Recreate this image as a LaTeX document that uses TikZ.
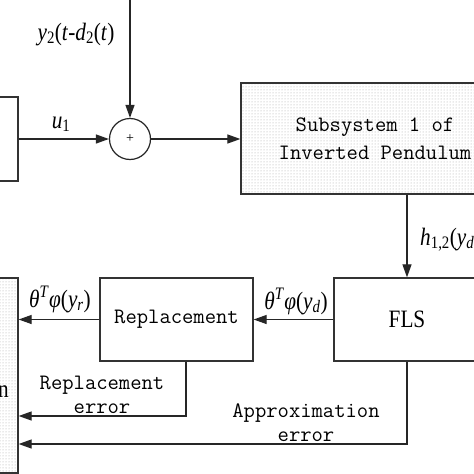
\documentclass[tikz,border=0pt]{standalone}
\usepackage{fontspec}
\setmainfont{Liberation Serif}
\usepackage{graphicx}
\usetikzlibrary{arrows.meta,patterns}
\newcommand{\nx}[1]{\scalebox{0.85}[1]{#1}}
\tikzset{
  box/.style={draw=black!80, line width=1.3pt, inner sep=0pt, fill=white},
  dotbox/.style={draw=black!80, line width=1.3pt, inner sep=0pt, pattern=dots, pattern color=black!35},
  conn/.style={draw=black!85, line width=1.2pt, -{Triangle[length=13pt,width=9pt]}},
  mono/.style={font=\ttfamily\fontsize{22}{24}\selectfont, align=center},
  lab/.style={font=\fontsize{25}{28}\selectfont, inner sep=0pt},
}
\begin{document}
\begin{tikzpicture}[x=1pt,y=-1pt]
\useasboundingbox (0,0) rectangle (474,474);
\clip (0,0) rectangle (474,474);
\fill[white] (0,0) rectangle (474,474);
% boxes
\node[box, minimum width=118pt, minimum height=84pt] (ctrl) at (-41,139) {};
\node[dotbox, minimum width=268pt, minimum height=111pt, mono] (sub) at (375,138.5)
  {Subsystem 1 of\\[4pt]Inverted Pendulum};
\node[box, minimum width=146pt, minimum height=83pt, lab] (fls) at (407,319.5) {\nx{FLS}};
\node[box, minimum width=153pt, minimum height=83pt, mono] (rep) at (176.5,319.5) {Replacement};
\node[dotbox, minimum width=118pt, minimum height=195pt] (adp) at (-41,375.5) {};
\node[lab, anchor=base east] (ntext) at (9,397) {\nx{n}};
\node[draw=black!85, line width=1.2pt, circle, minimum size=41pt, inner sep=0pt,
  font=\fontsize{14}{14}\selectfont] (sum) at (130,139) {+};
% connectors
\coordinate (top) at (130,-2);
\draw[conn] (top) -- (sum.north);
\draw[conn] (ctrl.east |- sum.west) -- (sum.west);
\draw[conn] (sum.east) -- (sub.west |- sum.east);
\draw[conn] (fls.north |- sub.south) -- (fls.north);
\draw[conn] (fls.west) -- (rep.east);
\draw[conn] (rep.west) -- (adp.east |- rep.west);
\coordinate (re) at (186,416);
\draw[conn] (rep.south -| re) -- (re) -- (adp.east |- re);
\coordinate (ae) at (407,444);
\draw[conn] (fls.south -| ae) -- (ae) -- (adp.east |- ae);
% labels
\node[lab, anchor=base] (ly2) at (76,40)
  {\nx{\textit{y}\textsubscript{2}(\textit{t}-\textit{d}\textsubscript{2}(\textit{t})}};
\node[lab, anchor=base] (lu1) at (61,128) {\nx{\textit{u}\textsubscript{1}}};
\node[lab, anchor=base west] (lh) at (420,245)
  {\nx{\textit{h}\textsubscript{1,2}(\textit{y}\textsubscript{\textit{d}})}};
\node[lab, anchor=base] (lyd) at (296,309)
  {\nx{\textit{θ}\textsuperscript{\textit{T}}\textit{φ}(\textit{y}\textsubscript{\textit{d}})}};
\node[lab, anchor=base] (lyr) at (60,307)
  {\nx{\textit{θ}\textsuperscript{\textit{T}}\textit{φ}(\textit{y}\textsubscript{\textit{r}})}};
\node[mono, anchor=center] (lre) at (102,395) {Replacement\\error};
\node[mono, anchor=center] (lae) at (306,423) {Approximation\\error};
\end{tikzpicture}
\end{document}
